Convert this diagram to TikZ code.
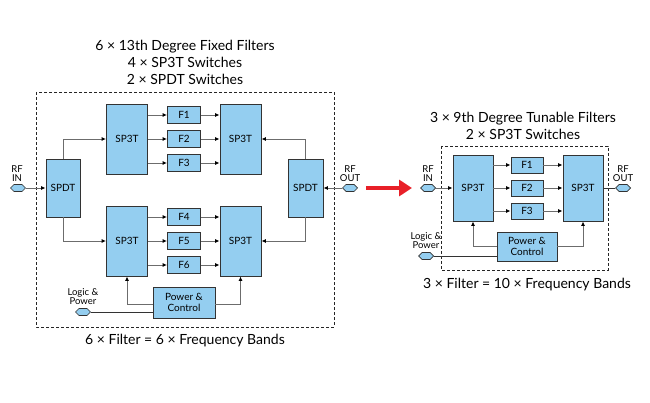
\documentclass[tikz,border=0pt]{standalone}
\usepackage{fontspec}
\setmainfont{Lato}
\usetikzlibrary{arrows.meta,shapes.symbols}
\definecolor{boxblue}{RGB}{148,206,240}
\definecolor{arrowred}{RGB}{232,32,40}

\begin{document}
\begin{tikzpicture}[
    x=1pt, y=-1pt,
    blk node/.style={rectangle, draw=black!80, fill=boxblue, line width=0.9pt, inner sep=0pt, font=\fontsize{10}{10.5}\selectfont},
    filt node/.style={blk node, minimum width=33pt, minimum height=17pt},
    port node/.style={signal, signal to=east and west, draw=black!80, fill=boxblue, line width=0.7pt, inner sep=0pt, minimum width=15pt, minimum height=7pt},
    lbl node/.style={align=center, inner sep=0pt, font=\fontsize{9.5}{9}\selectfont},
    head node/.style={align=center, inner sep=0pt, font=\fontsize{14}{17}\selectfont},
    link/.style={draw=gray!85!black, line width=0.9pt, -{Latex[length=4.5pt,width=4pt,color=black]}},
    plain link/.style={draw=black!80, line width=0.9pt},
    frame/.style={draw=black!85, dashed, line width=0.9pt, dash pattern=on 3pt off 2pt}
]
\useasboundingbox (0,0) rectangle (650,403);

% ---- fixed filter bank ----
\node[head node] (headA) at (185,62) {6 × 13th Degree Fixed Filters\\4 × SP3T Switches\\2 × SPDT Switches};
\draw[frame] (36,92) rectangle (334,327);

\node[blk node, minimum width=34pt, minimum height=58pt] (spdtL) at (63,188) {SPDT};
\node[blk node, minimum width=35pt, minimum height=58pt] (spdtR) at (305.5,188) {SPDT};
\node[blk node, minimum width=41pt, minimum height=70pt] (sp3tA) at (127,139) {SP3T};
\node[blk node, minimum width=41pt, minimum height=70pt] (sp3tB) at (240.5,139) {SP3T};
\node[blk node, minimum width=41pt, minimum height=70pt] (sp3tC) at (127,241) {SP3T};
\node[blk node, minimum width=41pt, minimum height=70pt] (sp3tD) at (240.5,241) {SP3T};
\node[blk node, minimum width=62pt, minimum height=31pt, align=center] (pcA) at (184,302.5) {Power \&\\Control};

\node[port node] (rfin) at (18,188) {};
\node[lbl node] (rfinL) at (17,174) {RF\\IN};
\node[port node] (rfout) at (350,188) {};
\node[lbl node] (rfoutL) at (350,174) {RF\\OUT};
\node[port node] (logicA) at (83,312) {};
\node[lbl node] (logicAL) at (83,296.5) {Logic \&\\Power};

\foreach \i/\y in {1/115, 2/139, 3/163} {
    \node[filt node] (F\i) at (184,\y) {F\i};
    \draw[link] (sp3tA.east |- F\i) -- (F\i);
    \draw[link] (F\i) -- (sp3tB.west |- F\i);
}
\foreach \i/\y in {4/217, 5/241, 6/265} {
    \node[filt node] (F\i) at (184,\y) {F\i};
    \draw[link] (sp3tC.east |- F\i) -- (F\i);
    \draw[link] (F\i) -- (sp3tD.west |- F\i);
}

\draw[link] (rfin) -- (spdtL);
\draw[link] (spdtL.north) |- (sp3tA.west);
\draw[link] (spdtL.south) |- (sp3tC.west);
\draw[link] (rfout) -- (spdtR);
\draw[link] (spdtR.north) |- (sp3tB.east);
\draw[link] (spdtR.south) |- (sp3tD.east);
\draw[link] ([yshift=-1.5pt]pcA.west) -| (sp3tC.south);
\draw[link] ([yshift=-1.5pt]pcA.east) -| (sp3tD.south);
\draw[plain link] (logicA) -- (logicA -| pcA.west);

\node[head node] (footA) at (185,341) {6 × Filter = 6 × Frequency Bands};

% ---- arrow between ----
\coordinate (arrS) at (366,188);
\coordinate (arrE) at (412,188);
\draw[arrowred, line width=4pt, -{Triangle[length=13pt,width=16pt]}] (arrS) -- (arrE);

% ---- tunable filter bank ----
\node[head node] (headB) at (523,125.5) {3 × 9th Degree Tunable Filters\\2 × SP3T Switches};
\draw[frame] (441,146) rectangle (608,270);

\node[blk node, minimum width=40pt, minimum height=66pt] (sp3tE) at (473,188) {SP3T};
\node[blk node, minimum width=40pt, minimum height=66pt] (sp3tF) at (583,188) {SP3T};
\node[blk node, minimum width=60pt, minimum height=29pt, align=center] (pcB) at (527,246.5) {Power \&\\Control};

\node[port node] (rfinB) at (428,188) {};
\node[lbl node] (rfinBL) at (428,174) {RF\\IN};
\node[port node] (rfoutB) at (623,188) {};
\node[lbl node] (rfoutBL) at (623,174) {RF\\OUT};
\node[port node] (logicB) at (426,256) {};
\node[lbl node] (logicBL) at (426,240.5) {Logic \&\\Power};

\foreach \i/\y in {1/165, 2/188, 3/211} {
    \node[filt node, minimum width=32pt, minimum height=16pt] (G\i) at (527,\y) {F\i};
    \draw[link] (sp3tE.east |- G\i) -- (G\i);
    \draw[link] (G\i) -- (sp3tF.west |- G\i);
}

\draw[link] (rfinB) -- (sp3tE);
\draw[plain link] (sp3tF) -- (rfoutB);
\draw[link] ([yshift=0.5pt]pcB.west) -| (sp3tE.south);
\draw[link] ([yshift=0.5pt]pcB.east) -| (sp3tF.south);
\draw[plain link] (logicB) -- (logicB -| pcB.west);

\node[head node] (footB) at (527,285) {3 × Filter = 10 × Frequency Bands};

\end{tikzpicture}
\end{document}
